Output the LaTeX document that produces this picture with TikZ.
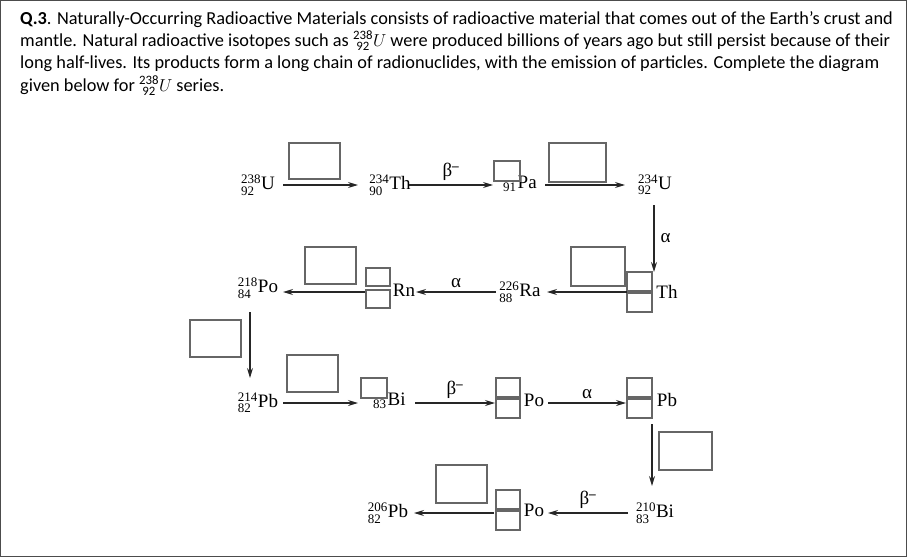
\documentclass[tikz,border=0pt]{standalone}
\usepackage{amsmath}
\usepackage{fontspec}
\setmainfont{Carlito}
\newfontfamily\tm{Liberation Serif}
\usetikzlibrary{arrows.meta}
\newcommand{\sm}[1]{\text{\tm\fontsize{13}{14}\selectfont #1}}
\newcommand{\nuc}[3]{{\tm\fontsize{19}{21}\selectfont$^{\sm{#1}}_{\sm{#2}}$#3}}
\newcommand{\nucb}[2]{{\tm\fontsize{19}{21}\selectfont$_{\sm{#1}}$\hspace{1pt}#2}}
\begin{document}
\begin{tikzpicture}[x=1pt,y=-1pt,
  ar/.style={draw=black!85,line width=1.2pt,-{Stealth[length=10pt,width=6pt]}},
  bx/.style={draw=black!60,line width=1.2pt},
  lbl/.style={font=\tm\fontsize{19}{21}\selectfont,inner sep=0},
  hd/.style={anchor=base west,inner sep=0,font=\fontsize{18.3}{20}\selectfont}]
\useasboundingbox (0,0) rectangle (907,557);
\draw[black!70,line width=0.8pt] (0.5,0.5) rectangle (906.5,556.5);
\node[hd] (h1) at (20,24) {\textbf{Q.3}. Naturally-Occurring Radioactive Materials consists of radioactive material that comes out of the Earth’s crust and};
\node[hd] (h2) at (20,46) {mantle. Natural radioactive isotopes such as $^{\text{238}}_{\;\text{92}}U$ were produced billions of years ago but still persist because of their};
\node[hd] (h3) at (20,68) {long half-lives. Its products form a long chain of radionuclides, with the emission of particles. Complete the diagram};
\node[hd] (h4) at (20,91) {given below for $^{\text{238}}_{\;\text{92}}U$ series.};
% row 1
\node[lbl] (u238) at (258,185) {\nuc{238}{92}{U}};
\node[lbl] (th234) at (390,185) {\nuc{234}{90}{Th}};
\node[lbl,anchor=west] (pa) at (503,184) {\nucb{91}{Pa}};
\node[lbl] (u234) at (655,185) {\nuc{234}{92}{U}};
\coordinate (a1s) at (283,185); \coordinate (a1e) at (358,185);
\draw[ar] (a1s) -- (a1e);
\draw[bx] (289,143) rectangle (340,179);
\coordinate (a2s) at (409,185); \coordinate (a2e) at (493,185);
\draw[ar] (a2s) -- (a2e) node[lbl,midway,above=4pt] (b1) {β\textsuperscript{\textbf{–}}};
\draw[bx] (494,161) rectangle (520,181);
\coordinate (a3s) at (545,185); \coordinate (a3e) at (625,185);
\draw[ar] (a3s) -- (a3e);
\draw[bx] (549,143) rectangle (606,182);
\coordinate (v1s) at (654,205); \coordinate (v1e) at (654,272);
\draw[ar] (v1s) -- (v1e) node[lbl,midway,right=6pt] (al1) {α};
% row 2
\draw[bx] (627,272) rectangle (652,291);
\draw[bx] (627,293) rectangle (652,312);
\node[lbl] (th) at (667,292) {Th};
\coordinate (a4s) at (627,292); \coordinate (a4e) at (547,292);
\draw[ar] (a4s) -- (a4e);
\draw[bx] (571,247) rectangle (625,286);
\node[lbl] (ra) at (520,292) {\nuc{226}{88}{Ra}};
\coordinate (a5s) at (496,292); \coordinate (a5e) at (416,292);
\draw[ar] (a5s) -- (a5e) node[lbl,midway,above=4pt] (al2) {α};
\draw[bx] (366,268) rectangle (390,286);
\draw[bx] (366,290) rectangle (390,308);
\node[lbl] (rn) at (404,290) {Rn};
\coordinate (a6s) at (365,292); \coordinate (a6e) at (283,292);
\draw[ar] (a6s) -- (a6e);
\draw[bx] (305,247) rectangle (356,284);
\node[lbl] (po218) at (258,288) {\nuc{218}{84}{Po}};
\coordinate (v2s) at (250,312); \coordinate (v2e) at (250,378);
\draw[ar] (v2s) -- (v2e);
\draw[bx] (190,320) rectangle (241,357);
% row 3
\node[lbl] (pb214) at (258,403) {\nuc{214}{82}{Pb}};
\coordinate (a7s) at (283,403); \coordinate (a7e) at (358,403);
\draw[ar] (a7s) -- (a7e);
\draw[bx] (287,355) rectangle (338,392);
\draw[bx] (361,378) rectangle (387,398);
\node[lbl,anchor=west] (bi) at (373,401) {\nucb{83}{Bi}};
\coordinate (a8s) at (415,403); \coordinate (a8e) at (495,403);
\draw[ar] (a8s) -- (a8e) node[lbl,midway,above=4pt] (b2) {β\textsuperscript{\textbf{–}}};
\draw[bx] (496,378) rectangle (520,397);
\draw[bx] (496,399) rectangle (520,418);
\node[lbl] (po1) at (534,400) {Po};
\coordinate (a9s) at (548,403); \coordinate (a9e) at (626,403);
\draw[ar] (a9s) -- (a9e) node[lbl,midway,above=4pt] (al3) {α};
\draw[bx] (627,378) rectangle (652,397);
\draw[bx] (627,399) rectangle (652,418);
\node[lbl] (pb1) at (667,400) {Pb};
\coordinate (v3s) at (652,424); \coordinate (v3e) at (652,486);
\draw[ar] (v3s) -- (v3e);
\draw[bx] (659,432) rectangle (712,470);
% row 4
\node[lbl] (bi210) at (655,513) {\nuc{210}{83}{Bi}};
\coordinate (a10s) at (628,513); \coordinate (a10e) at (548,513);
\draw[ar] (a10s) -- (a10e) node[lbl,midway,above=4pt] (b3) {β\textsuperscript{\textbf{–}}};
\draw[bx] (496,490) rectangle (520,509);
\draw[bx] (496,511) rectangle (520,530);
\node[lbl] (po2) at (534,510) {Po};
\coordinate (a11s) at (494,513); \coordinate (a11e) at (414,513);
\draw[ar] (a11s) -- (a11e);
\draw[bx] (436,465) rectangle (487,503);
\node[lbl] (pb206) at (388,513) {\nuc{206}{82}{Pb}};
\end{tikzpicture}
\end{document}
